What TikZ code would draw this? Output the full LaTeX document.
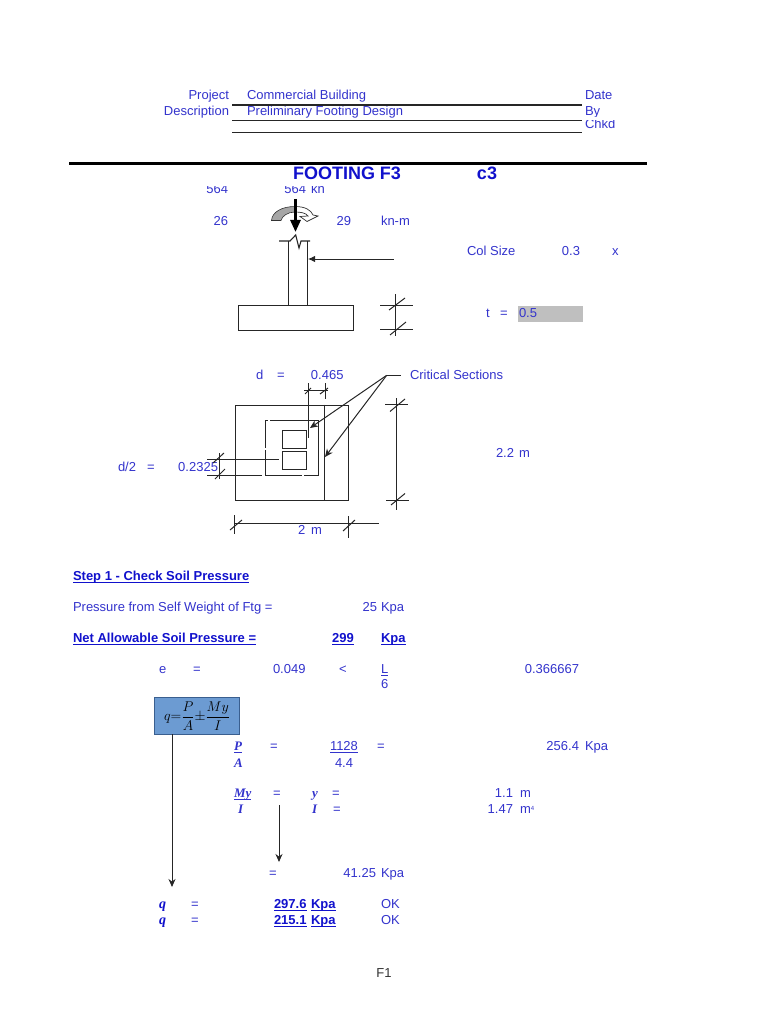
\documentclass[tikz,border=0pt]{standalone}
\usepackage{fontspec}
\usepackage{graphicx}
\setmainfont{Liberation Sans}
\newfontfamily\serifq{Liberation Serif}
\usetikzlibrary{arrows.meta}
\definecolor{inkblue}{HTML}{3333CC}
\definecolor{boldblue}{HTML}{1111CC}
\definecolor{boxblue}{HTML}{6C9BD2}
\definecolor{boxedge}{HTML}{3A5F8F}
\definecolor{cellgrey}{HTML}{BFBFBF}
\newcommand{\ulin}[1]{\underline{\smash{#1}}}
\tikzset{
 txt/.style={inner sep=0pt,outer sep=0pt,yshift=-0.7pt,text=inkblue,font=\fontsize{13}{15}\selectfont},
 lft/.style={txt,anchor=base west},
 rgt/.style={txt,anchor=base east},
 ctr/.style={txt,anchor=base},
 bld/.style={text=boldblue,font=\fontsize{13}{15}\selectfont\bfseries},
 big/.style={text=boldblue,font=\fontsize{18}{20}\selectfont\bfseries},
 srf/.style={font=\fontsize{13}{15}\selectfont\serifq\bfseries\itshape},
 srfb/.style={text=boldblue,font=\fontsize{14}{15}\selectfont\serifq\bfseries\itshape},
 ln/.style={draw=black!85,line width=1pt},
 head/.style={draw=black!85,line width=1.1pt},
 arr/.style={ln,-{Stealth[length=8pt,width=7pt]}},
 gapmark/.style={draw=white,line width=1.4pt},
}
\begin{document}
\begin{tikzpicture}[x=1pt,y=-1pt]
\useasboundingbox (0,0) rectangle (768,1024);
% title block
\node[rgt] (tProject) at (229,99) {Project};
\node[rgt] (tDesc) at (229,115) {Description};
\node[lft] (tComm) at (247,99) {Commercial Building};
\node[lft] (tPrelim) at (247,115) {Preliminary Footing Design};
\node[lft] (tDate) at (585,99) {Date};
\node[lft] (tBy) at (585,115) {By};
\node[lft] (tChkd) at (585,127.6) {Chkd};
\fill[white] (584,116.8) rectangle (620,120.5);
\draw[head] (232,105) -- (582,105);
\draw[head] (232,120.5) -- (582,120.5);
\draw[head] (232,132.5) -- (582,132.5);
\draw[black,line width=3pt] (69,163.5) -- (647,163.5);
\node[ctr,big] (tFoot) at (347,179) {FOOTING F3};
\node[ctr,big] (tC3) at (487,179) {c3};
\node[rgt] (tP1) at (228,193) {564};
\node[rgt] (tP2) at (306,193) {564};
\node[lft] (tKn) at (311,193) {kn};
\fill[white] (200,180.5) rectangle (290,186);
\fill[white] (290,182) rectangle (330,186);
\node[rgt] (tM1) at (228,225) {26};
\node[rgt] (tM2) at (351,225) {29};
\node[lft] (tKnm) at (381,225) {kn-m};
% elevation: moment symbols
\fill[gray!70,draw=black!80,line width=0.6pt] (271.5,220.5) .. controls (272,212) and (282,206.5) .. (295,206.5) -- (295,212) .. controls (288,212) and (282,216) .. (281,220.5) -- cycle;
\draw[black!80,line width=0.7pt,fill=white] (295,206.5) .. controls (305,206.5) and (311,210) .. (313,215) -- (318,216) -- (307,221.5) -- (300,216.5) -- (308,216) .. controls (306,213) and (301,212) .. (295,212);
% heavy load arrow
\coordinate (loadTop) at (295.5,199);
\coordinate (loadEnd) at (295.5,232);
\draw[black,line width=2.6pt,-{Stealth[length=12pt,width=10pt,inset=0pt]}] (loadTop) -- (loadEnd);
% column and footing
\draw[head] (279,241) -- (290,241) -- (295.7,235) -- (299,248) -- (301,241) -- (310,241);
\draw[head] (288.3,241) -- (288.3,305);
\draw[head] (307.7,241) -- (307.7,305);
\node[draw=black!85,line width=1.1pt,inner sep=0pt,minimum width=115.6pt,minimum height=24.7pt,anchor=north west] (footing) at (237.7,305) {};
\coordinate (colLabel) at (393.5,259);
\coordinate (colEdge) at (308,259);
\draw[ln,-{Latex[length=7pt,width=6.5pt]}] (colLabel) -- (colEdge);
\node[lft] (tCol) at (467,255) {Col Size};
\node[rgt] (tCv) at (580,255) {0.3};
\node[lft] (tX) at (612,255) {x};
% t dimension
\draw[ln] (380,305) -- (413,305) (380,329.7) -- (413,329.7) (395.5,294) -- (395.5,336);
\draw[ln] (389,310) -- (405,298) (390,335) -- (406,322);
\node[lft] (tT) at (486,317) {t};
\node[lft] (tTe) at (500,317) {=};
\node[fill=cellgrey,minimum width=65pt,minimum height=16pt,inner sep=0pt,anchor=north west] (tCell) at (518,306) {};
\node[lft] (tTv) at (519,317) {0.5};
% plan labels
\node[lft] (tD) at (256,379) {d};
\node[lft] (tDe) at (277,379) {=};
\node[rgt] (tDv) at (343.5,379) {0.465};
\node[lft] (tCrit) at (410,379) {Critical Sections};
\node[lft] (tD2) at (118,471) {d/2};
\node[lft] (tD2e) at (147,471) {=};
\node[rgt] (tD2v) at (218,471) {0.2325};
\node[lft] (tW) at (496,457) {2.2};
\node[lft] (tWm) at (519,457) {m};
\node[lft] (tB) at (298,534) {2};
\node[lft] (tBm) at (311,534) {m};
% plan shapes
\node[draw=black!85,line width=1.1pt,inner sep=0pt,minimum width=113.6pt,minimum height=95.3pt,anchor=north west] (plan) at (234.7,404.7) {};
\node[draw=black!85,line width=1.1pt,inner sep=0pt,minimum width=52.7pt,minimum height=55.3pt,anchor=north west] (crit) at (265,420) {};
\draw[gapmark] (268,420) -- (270,420) (302,475.3) -- (304,475.3) (265,448) -- (265,450) (317.7,449) -- (317.7,451);
\node[draw=black!85,line width=1.1pt,inner sep=0pt,minimum width=23.4pt,minimum height=18pt,anchor=north west] (colA) at (282.3,430.3) {};
\node[draw=black!85,line width=1.1pt,inner sep=0pt,minimum width=23.4pt,minimum height=18pt,anchor=north west] (colB) at (282.3,450.7) {};
\draw[head] (324.7,404.7) -- (324.7,500);
\draw[ln] (308.7,383.3) -- (308.7,438);
% d dimension
\draw[ln] (304,390) -- (328,390) (325,383) -- (325,399);
\draw[ln] (305,394) -- (311,388) (320,394) -- (328,388);
% d/2 dimension
\draw[ln] (207,459.3) -- (279,459.3) (207,475.3) -- (262,475.3) (219.7,453) -- (219.7,479);
\draw[ln] (213,463) -- (224,453) (215,479) -- (225,469);
% width dimension
\draw[ln] (385,404.7) -- (407.7,404.7) (386,500) -- (409,500) (396.7,398) -- (396.7,510);
\draw[ln] (390,411.5) -- (405,399) (391,505) -- (405,493.5);
% base dimension
\draw[ln] (234.7,523.3) -- (378.7,523.3) (234.7,515) -- (234.7,534) (348.3,516) -- (348.3,538);
\draw[ln] (230,530) -- (242,520) (343,531) -- (355,520);
% critical section leaders
\coordinate (leadEnd) at (400.7,375.3);
\coordinate (leadHub) at (386.7,375.3);
\coordinate (critA) at (310,428);
\coordinate (critB) at (325,457);
\draw[ln] (leadEnd) -- (leadHub);
\draw[arr] (leadHub) -- (critA);
\draw[arr] (leadHub) -- (critB);
% Step 1
\node[lft,bld] (tStep) at (73,580) {\ulin{Step 1 - Check Soil Pressure}};
\node[lft] (tSelf) at (73,611) {Pressure from Self Weight of Ftg =};
\node[rgt] (tSelfv) at (377,611) {25};
\node[lft] (tSelfu) at (381,611) {Kpa};
\node[lft,bld] (tNet) at (73,642) {\ulin{Net Allowable Soil Pressure =}};
\node[ctr,bld] (tNetv) at (343,642) {\ulin{299}};
\node[lft,bld] (tNetu) at (381,642) {\ulin{Kpa}};
\node[lft] (tE) at (159,673) {e};
\node[lft] (tEe) at (193,673) {=};
\node[lft] (tEv) at (273,673) {0.049};
\node[lft] (tLt) at (339,673) {<};
\node[lft] (tL) at (381,673) {\ulin{L}};
\node[lft] (tSix) at (381,688) {6};
\node[rgt] (tLv) at (579,673) {0.366667};
% formula box
\node[draw=boxedge,fill=boxblue,line width=1pt,inner sep=0pt,minimum width=85.6pt,minimum height=37.6pt,anchor=north west,text=black,font=\fontsize{14}{16}\selectfont] (box) at (153.7,696.7) {\scalebox{0.98}{$\displaystyle q{=}\frac{P}{A}{\pm}\frac{My}{I}$}};
\node[lft,srf] (tPf) at (234,750) {\ulin{P}};
\node[lft] (tPe) at (270,750) {=};
\node[lft] (tPn) at (330,750) {\ulin{1128}};
\node[lft] (tPe2) at (377,750) {=};
\node[rgt] (tPv) at (579,750) {256.4};
\node[lft] (tPu) at (585,750) {Kpa};
\node[lft,srf] (tAf) at (234,767) {A};
\node[lft] (tAd) at (335,767) {4.4};
\node[lft,srf] (tMy) at (234,797) {\ulin{My}};
\node[lft] (tMe) at (273,797) {=};
\node[lft,srf] (tY) at (312,797) {y};
\node[lft] (tYe) at (332,797) {=};
\node[rgt] (tYv) at (513,797) {1.1};
\node[lft] (tYm) at (520,797) {m};
\node[lft,srf] (tI) at (238,813) {I};
\node[lft,srf] (tI2) at (312,813) {I};
\node[lft] (tIe) at (333,813) {=};
\node[rgt] (tIv) at (513,813) {1.47};
\node[lft] (tIm) at (520,813) {m\raisebox{3pt}{\fontsize{6}{6}\selectfont 4}};
\coordinate (myTop) at (279,805);
\coordinate (myEnd) at (279,862);
\coordinate (boxOut) at (172,734.3);
\coordinate (qEnd) at (172,887);
\draw[arr] (myTop) -- (myEnd);
\draw[arr] (boxOut) -- (qEnd);
\node[lft] (tSe) at (269,877) {=};
\node[rgt] (tSv) at (376,877) {41.25};
\node[lft] (tSu) at (381,877) {Kpa};
\node[lft,srfb] (tQ1) at (159,908) {q};
\node[lft] (tQ1e) at (191,908) {=};
\node[lft,bld] (tQ1v) at (274,908) {\ulin{297.6}};
\node[lft,bld] (tQ1u) at (311,908) {\ulin{Kpa}};
\node[lft] (tQ1k) at (381,908) {OK};
\node[lft,srfb] (tQ2) at (159,924) {q};
\node[lft] (tQ2e) at (191,924) {=};
\node[lft,bld] (tQ2v) at (274,924) {\ulin{215.1}};
\node[lft,bld] (tQ2u) at (311,924) {\ulin{Kpa}};
\node[lft] (tQ2k) at (381,924) {OK};
\node[ctr,text=black!80] (tF1) at (384,977) {F1};
\end{tikzpicture}
\end{document}
